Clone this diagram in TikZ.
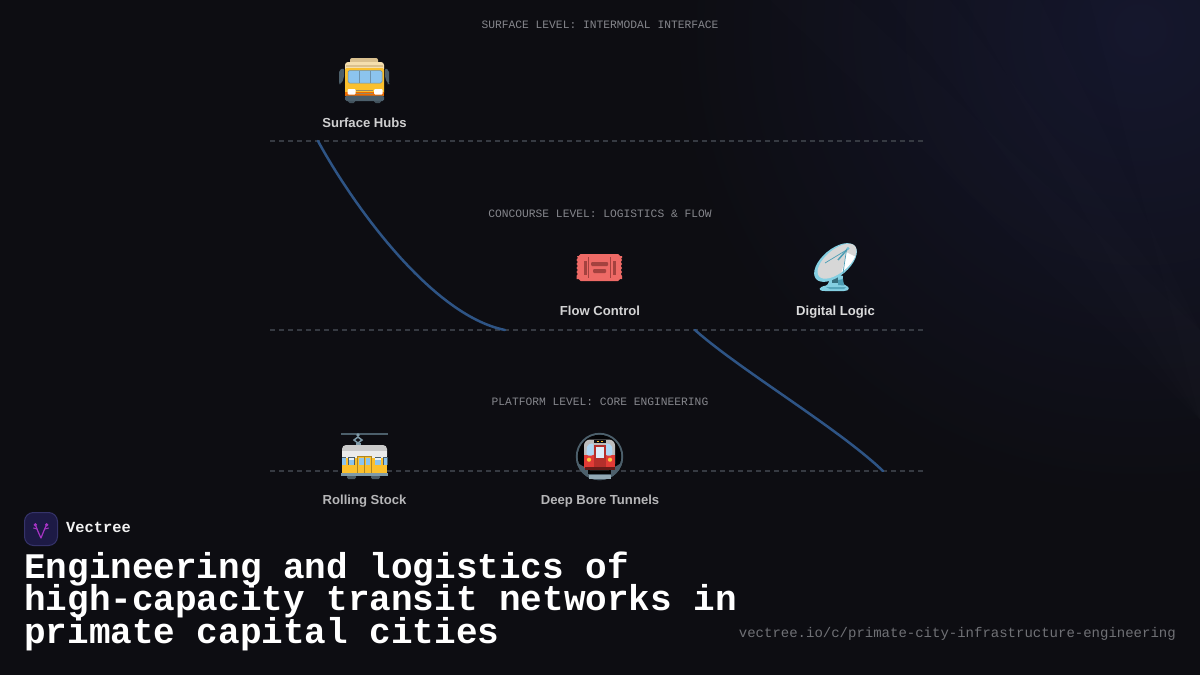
\documentclass[tikz,border=0pt]{standalone}
\usepackage{fontspec}
\setmainfont{Liberation Sans}
\setmonofont{Liberation Mono}
\usetikzlibrary{calc}
\definecolor{bgbase}{HTML}{0D0D12}
\definecolor{bgblue}{HTML}{14162C}
\definecolor{rulecol}{HTML}{363A42}
\definecolor{flowcol}{HTML}{2E5485}
\definecolor{levelcol}{HTML}{85868C}
\definecolor{urlcol}{HTML}{707176}
\definecolor{slate}{HTML}{4C5F6B}
\definecolor{slatelt}{HTML}{7F9AA8}
\definecolor{glass}{HTML}{8CC4EE}
\definecolor{amber}{HTML}{FBC02D}
\definecolor{tan}{HTML}{D9C08F}
\definecolor{cream}{HTML}{F5DFAE}
\definecolor{orangeb}{HTML}{EF6C00}
\definecolor{tick}{HTML}{EE6A66}
\definecolor{tickd}{HTML}{A4423F}
\definecolor{teal}{HTML}{84CFE2}
\definecolor{teald}{HTML}{4C9DB4}
\definecolor{redm}{HTML}{E23B36}
\definecolor{lgrey}{HTML}{BDBDBD}
\definecolor{logobg}{HTML}{1D1A45}
\definecolor{logoedge}{HTML}{35336A}
\definecolor{logoink}{HTML}{A633C4}
\tikzset{
  x=1pt,y=-1pt,
  levelrule/.style={draw=rulecol,line width=1.5pt,dash pattern=on 5pt off 4pt},
  flowline/.style={draw=flowcol,line width=2.5pt,line cap=round},
  levellabel/.style={font=\ttfamily\fontsize{11.28}{13}\selectfont,text=levelcol,inner sep=0pt,anchor=center},
  itemlabel/.style={font=\bfseries\fontsize{13.1}{15}\selectfont,inner sep=0pt,anchor=base},
  headline/.style={font=\ttfamily\bfseries\fontsize{36}{32.4}\selectfont,text=white,inner sep=0pt,anchor=base west},
}
\begin{document}
\begin{tikzpicture}
\useasboundingbox (0,0) rectangle (1200,675);
\fill[bgbase] (0,0) rectangle (1200,675);
\begin{scope}
  \clip (0,0) rectangle (1200,675);
  \shade[inner color=bgblue,outer color=bgbase] (1140,30) circle[radius=470];
  \foreach \a/\b in {770/850,890/950,965/1040,1090/1200}{
    \fill[white,opacity=0.006] (\a,0) -- (\b,0) -- (1200,330) -- (1200,420) -- cycle;
  }
\end{scope}

% level rules
\coordinate (r1a) at (270,141); \coordinate (r1b) at (926,141);
\coordinate (r2a) at (270,330); \coordinate (r2b) at (926,330);
\coordinate (r3a) at (270,471); \coordinate (r3b) at (926,471);
\draw[levelrule] (r1a) -- (r1b);
\draw[levelrule] (r2a) -- (r2b);
\draw[levelrule] (r3a) -- (r3b);

% connectors
\coordinate (c1s) at (318,141); \coordinate (c1e) at (505,330);
\coordinate (c2s) at (695,330); \coordinate (c2e) at (883,471);
\draw[flowline] (c1s) .. controls (350,200) and (430,315) .. (c1e);
\draw[flowline] (c2s) .. controls (740,370) and (838,428) .. (c2e);

% level labels
\node[levellabel] (lv1) at (600,25) {SURFACE LEVEL: INTERMODAL INTERFACE};
\node[levellabel] (lv2) at (600,214) {CONCOURSE LEVEL: LOGISTICS \& FLOW};
\node[levellabel] (lv3) at (600,402) {PLATFORM LEVEL: CORE ENGINEERING};

% item labels
\node[itemlabel,text=white!80!bgbase] (surface) at (364.5,127) {Surface Hubs};
\node[itemlabel,text=white!82!bgbase] (flow) at (600,315) {Flow Control};
\node[itemlabel,text=white!85!bgbase] (digital) at (835.5,315) {Digital Logic};
\node[itemlabel,text=white!70!bgbase] (rolling) at (364.5,504) {Rolling Stock};
\node[itemlabel,text=white!70!bgbase] (deep) at (600,504) {Deep Bore Tunnels};

% BUS icon
\fill[slate,rounded corners=2pt] (339,70) -- (344,68) -- (344,78) -- (341,84) -- (339,84) -- cycle;
\fill[slate,rounded corners=2pt] (389,70) -- (385,68) -- (385,78) -- (388,84) -- (389,84) -- cycle;
\fill[slate!85!black,rounded corners=1.5pt] (348,97) rectangle (355,103);
\fill[slate!85!black,rounded corners=1.5pt] (374,97) rectangle (381,103);
\fill[tan,rounded corners=2pt] (350,58) rectangle (378,66);
\fill[cream,rounded corners=3pt] (345,62) rectangle (384,72);
\fill[tan] (346,64.5) rectangle (383,67);
\fill[amber,rounded corners=2pt] (345,68) rectangle (384,95);
\fill[orangeb] (345,92) rectangle (384,95.5);
\fill[slate,rounded corners=1.5pt] (345,95.5) rectangle (384,101);
\fill[glass,rounded corners=1.5pt,draw=slate!50!glass,line width=.5pt] (348,70.5) rectangle (382,83);
\draw[slate!50!glass,line width=.5pt] (359,70.5) -- (359,83) (370,70.5) -- (370,83);
\fill[white,rounded corners=1pt] (347.5,89) rectangle (355.5,94.5);
\fill[white,rounded corners=1pt] (374,89) rectangle (382.5,94.5);
\draw[tan!70!black,line width=.6pt] (356,90.5) -- (373,90.5) (356,93) -- (373,93);

% FLOW CONTROL ticket icon
\fill[tick] (577,256) -- (578.5,256) -- (580.5,254) -- (618,254) -- (620,256) -- (622,256)
  -- (622,258) -- (620.8,258) -- (622,260) -- (620.8,262) -- (622,264) -- (620.8,266) -- (622,268)
  -- (620.8,270) -- (622,272) -- (620.8,274) -- (622,276) -- (622,279) -- (620,279) -- (618,281)
  -- (580.5,281) -- (578.5,279) -- (576.5,279) -- (576.5,276) -- (577.8,274) -- (576.5,272) -- (577.8,270)
  -- (576.5,268) -- (577.8,266) -- (576.5,264) -- (577.8,262) -- (576.5,260) -- (577.8,258) -- cycle;
\fill[tickd] (583.5,260.5) rectangle (586.5,275);
\fill[tickd] (612.5,260.5) rectangle (615.5,275);
\draw[tickd,line width=.6pt] (588.5,257) -- (588.5,278) (610.5,257) -- (610.5,278);
\fill[tickd,rounded corners=1pt] (591,262) rectangle (608,266);
\fill[tickd,rounded corners=1pt] (593,269) rectangle (606,273);

% DIGITAL LOGIC dish icon
\fill[teal] (825,291) .. controls (817,291) and (818,287) .. (826,285.5) .. controls (829,284.5) and (830,280) .. (829,272)
  -- (843,276) .. controls (842,282) and (843,284.5) .. (846,285.5) .. controls (850,287) and (850,291) .. (844,291) -- cycle;
\fill[teald!70!black] (832,277) rectangle (838,283);
\fill[teald] (838,280) -- (843,279) -- (844,285.5) -- (838,285) -- cycle;
\fill[teald!80!teal] (826,287) -- (846,287) -- (844,289) -- (830,289) -- cycle;
\fill[teal,rotate around={40:(835.5,262.5)}] (835.5,262.5) ellipse[x radius=25.5,y radius=13.5];
\fill[lgrey!60!white,rotate around={40:(837,261.2)}] (837,261.2) ellipse[x radius=23.5,y radius=11.5];
\begin{scope}
  \clip (846,252) -- (866,262) -- (850,292) -- (838,281) .. controls (842,272) and (845,262) .. (846,252) -- cycle;
  \fill[white,rotate around={40:(837,261.2)}] (837,261.2) ellipse[x radius=23.5,y radius=11.5];
\end{scope}
\draw[teald,line width=.7pt] (825,263) -- (846.5,250) -- (843,273);
\draw[teald,line width=1.5pt] (838,260) -- (847.5,249);
\fill[teal!70!teald] (848,248.5) circle[radius=1.6];

% ROLLING STOCK tram icon
\fill[slate] (341,433) rectangle (388,434.5);
\draw[slatelt,line width=1.5pt] (358,437) -- (354,440) -- (358,443) -- (362,440) -- cycle;
\fill[slatelt] (358,435) circle[radius=1.8];
\fill[slatelt] (355.5,443) rectangle (360.5,445.5);
\fill[slatelt!60!black,rounded corners=1.5pt] (347,475) rectangle (356,479);
\fill[slatelt!60!black,rounded corners=1.5pt] (371,475) rectangle (380,479);
\fill[lgrey!80!white,rounded corners=4pt] (342,445) rectangle (387,460);
\fill[white!92!black] (342,451) rectangle (387,458);
\fill[amber] (342,456) rectangle (387,473);
\fill[white!92!black] (342,456) rectangle (358,458);
\fill[white!92!black] (372,456) rectangle (387,458);
\fill[slatelt] (341,473) rectangle (388,475.5);
\fill[amber!70!black] (357,455.5) rectangle (372,473);
\fill[amber] (358,456.5) rectangle (364.2,473);
\fill[amber] (364.8,456.5) rectangle (371,473);
\fill[glass] (359,457.5) rectangle (363.5,465);
\fill[glass] (365.5,457.5) rectangle (370,465);
\foreach \xa/\xb in {342/345.5,348.5/354,375/380.5,383.5/387}{
  \fill[slate] (\xa-.5,456.5) rectangle (\xb+.5,465);
  \fill[glass] (\xa,457.5) rectangle (\xb,464.5);
}
\fill[white!80!glass] (348.5,457.5) rectangle (354,459.8);
\fill[white!80!glass] (375,457.5) rectangle (380.5,459.8);

% DEEP BORE metro icon
\fill[slate] (599.5,456.5) circle[radius=23.7];
\fill[black!75!bgbase] (599.5,456.5) circle[radius=21.7];
\begin{scope}
  \clip (599.5,456.5) circle[radius=23.7];
  \fill[slate] (575,460) .. controls (582,468) and (590,469) .. (599.5,469) .. controls (609,469) and (617,468) .. (624,460) -- (625,485) -- (575,485) -- cycle;
\end{scope}
\fill[black!80!bgbase] (588,470) rectangle (611,474);
\fill[slatelt!85!white] (589,475) rectangle (611,478.5);
\fill[lgrey,rounded corners=6pt] (584,439.5) rectangle (615,470);
\fill[redm] (584,455) rectangle (615,468);
\fill[glass!70!white,rounded corners=2pt] (587,445) -- (593.5,443) -- (593.5,455.5) -- (586.5,455.5) -- cycle;
\fill[glass!70!white,rounded corners=2pt] (612,445) -- (605.5,443) -- (605.5,455.5) -- (612.5,455.5) -- cycle;
\fill[redm!80!black] (594,444.5) rectangle (605.5,469);
\fill[white!70!glass] (596,447) rectangle (603.5,458);
\fill[bgbase] (594,440) rectangle (605.5,443);
\fill[amber] (597,441) rectangle (599,442.2);
\fill[amber] (601,441) rectangle (603,442.2);
\fill[amber!90!white] (589,459.7) circle[radius=2.1];
\fill[amber!90!white] (610,459.7) circle[radius=2.1];
\fill[redm!45!black] (584.5,467) rectangle (615,469.5);

% logo
\node[draw=logoedge,fill=logobg,line width=1pt,rounded corners=9pt,minimum width=33pt,minimum height=33pt,inner sep=0pt] (logo) at (41,529) {};
\draw[logoink,line width=1.2pt,line cap=round,line join=round] (35.5,525) .. controls (37,529) and (38.5,533) .. (41,538) .. controls (43,533) and (44.5,529) .. (46.5,525);
\fill[logoink] (35.3,524.8) circle[radius=1.8] (46.7,524.8) circle[radius=1.8];
\draw[logoink,line width=1pt,line cap=round] (33.5,528) -- (37,529) (48.5,528) -- (45,529);

% brand and title
\node[font=\ttfamily\bfseries\fontsize{15.4}{18}\selectfont,text=white!95!black,inner sep=0pt,anchor=base west] (brand) at (66,532.7) {Vectree};
\node[headline] (t1) at (24,578.5) {Engineering and logistics of};
\node[headline] (t2) at (24,610.7) {high-capacity transit networks in};
\node[headline] (t3) at (24,643) {primate capital cities};
\node[font=\ttfamily\fontsize{14}{16}\selectfont,text=urlcol,inner sep=0pt,anchor=base east] (url) at (1176,637) {vectree.io/c/primate-city-infrastructure-engineering};
\end{tikzpicture}
\end{document}
